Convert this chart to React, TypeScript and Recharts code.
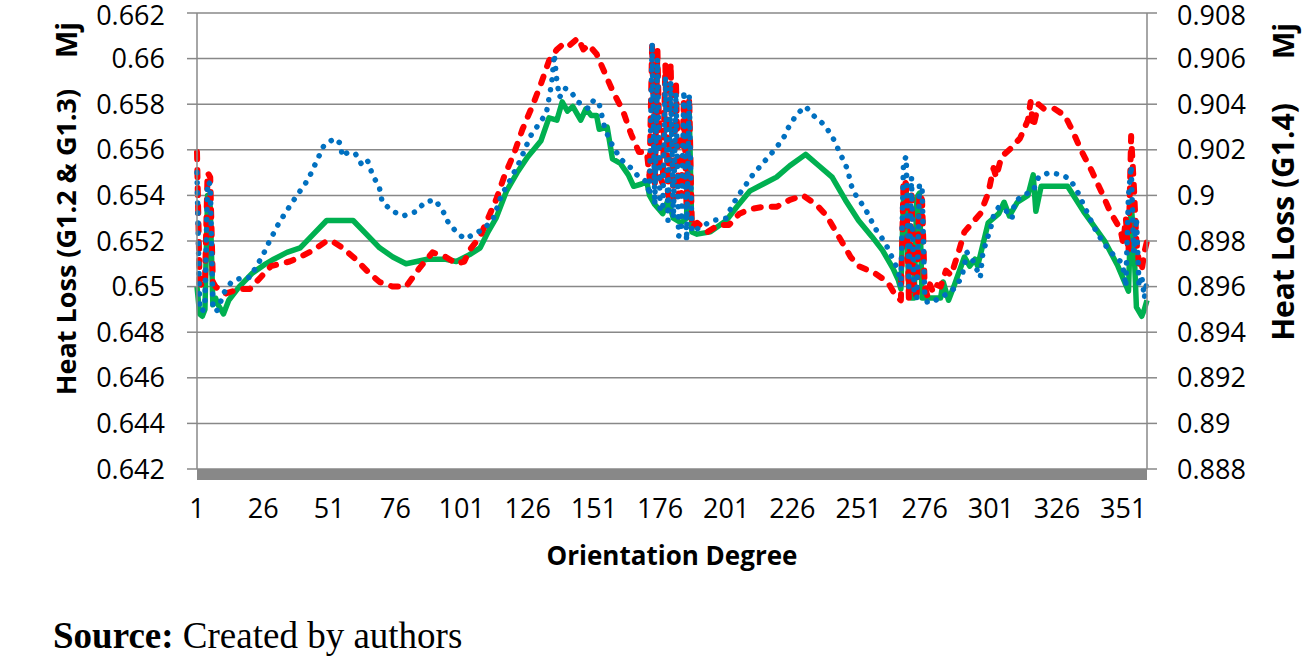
import React from 'react';
import { LineChart, Line, XAxis, YAxis, CartesianGrid } from 'recharts';

// orientation degree ticks and heat loss ticks (Mj)
const xTicks = [1, 26, 51, 76, 101, 126, 151, 176, 201, 226, 251, 276, 301, 326, 351];
const leftTicks = [0.642, 0.644, 0.646, 0.648, 0.65, 0.652, 0.654, 0.656, 0.658, 0.66, 0.662];
const rightTicks = [0.888, 0.89, 0.892, 0.894, 0.896, 0.898, 0.9, 0.902, 0.904, 0.906, 0.908];

// [degree, heat loss] – blue dotted, left axis
const bluePoints: [number, number][] = [
  [1, 0.655], [2, 0.6491], [3, 0.6489], [4, 0.6492], [5, 0.6546], [6, 0.6545], [7, 0.6492], [8, 0.6489],
  [9, 0.649], [11, 0.6497], [14, 0.6502], [18, 0.6504], [21, 0.6504], [23, 0.6508], [26, 0.6514], [28, 0.6519],
  [32, 0.6528], [37, 0.6537], [43, 0.6547], [47, 0.6557], [49, 0.6562], [53, 0.6565], [55, 0.6563], [56, 0.6557],
  [58, 0.6559], [61, 0.6558], [63, 0.6554], [65, 0.6556], [66, 0.6554], [67, 0.655], [70, 0.6543], [71, 0.6537],
  [75, 0.6533], [79, 0.6531], [84, 0.6533], [87, 0.6537], [91, 0.6538], [94, 0.6533], [96, 0.6528], [99, 0.6524],
  [102, 0.6521], [106, 0.6523], [110, 0.6526], [113, 0.653], [116, 0.654], [119, 0.6546], [123, 0.6555], [127, 0.6566],
  [130, 0.6571], [133, 0.6576], [135, 0.6589], [136, 0.6602], [137, 0.659], [138, 0.6583], [140, 0.6587], [142, 0.6586],
  [145, 0.6581], [149, 0.6578], [151, 0.6582], [153, 0.658], [155, 0.657], [157, 0.6564], [161, 0.6556], [165, 0.6552],
  [168, 0.6548], [171, 0.6546], [172, 0.654], [173, 0.6607], [174, 0.6536], [175, 0.66], [176, 0.6534], [177, 0.6533],
  [178, 0.6592], [179, 0.6529], [180, 0.659], [181, 0.653], [182, 0.6585], [183, 0.6522], [184, 0.6525], [185, 0.6586],
  [186, 0.652], [187, 0.6584], [188, 0.6524], [191, 0.6526], [196, 0.6529], [201, 0.653], [203, 0.6535], [205, 0.6539],
  [208, 0.6544], [211, 0.6549], [214, 0.6553], [217, 0.6557], [220, 0.6561], [223, 0.6566], [225, 0.6571], [228, 0.6576],
  [231, 0.6579], [234, 0.6575], [238, 0.6571], [241, 0.6566], [243, 0.6561], [245, 0.6556], [247, 0.6551], [248, 0.6545],
  [250, 0.654], [253, 0.6535], [255, 0.6531], [257, 0.6526], [260, 0.6521], [262, 0.6517], [264, 0.6512], [266, 0.6507],
  [267, 0.65], [268, 0.6555], [269, 0.6557], [270, 0.65], [271, 0.6548], [272, 0.6496], [273, 0.6495], [274, 0.6545],
  [275, 0.6543], [276, 0.6497], [277, 0.6493], [278, 0.6493], [282, 0.6495], [287, 0.6499], [290, 0.6504], [292, 0.6515],
  [294, 0.6512], [297, 0.6504], [298, 0.6515], [301, 0.6526], [302, 0.6531], [304, 0.6535], [307, 0.6533], [309, 0.653],
  [310, 0.6537], [313, 0.654], [317, 0.6542], [319, 0.6548], [323, 0.655], [328, 0.6549], [331, 0.6547], [334, 0.6541],
  [336, 0.6536], [338, 0.6531], [340, 0.6526], [342, 0.6522], [345, 0.6517], [348, 0.6513], [350, 0.6511], [351, 0.6508],
  [352, 0.65], [353, 0.654], [354, 0.6553], [355, 0.6515], [356, 0.653], [357, 0.65], [358, 0.6505], [359, 0.6495],
  [360, 0.6503],
];

// red dashed, left axis
const redPoints: [number, number][] = [
  [1, 0.6559], [2, 0.6502], [3, 0.65], [4, 0.6502], [5, 0.655], [6, 0.6548], [7, 0.6502], [8, 0.65],
  [10, 0.6498], [12, 0.6497], [17, 0.6499], [21, 0.6499], [25, 0.6504], [29, 0.6509], [36, 0.6511], [40, 0.6513],
  [45, 0.6516], [50, 0.652], [52, 0.652], [56, 0.6517], [61, 0.6512], [66, 0.6506], [70, 0.6502], [75, 0.65],
  [80, 0.65], [85, 0.6508], [90, 0.6515], [95, 0.6513], [99, 0.651], [102, 0.6511], [104, 0.6516], [108, 0.6522],
  [111, 0.653], [114, 0.6538], [117, 0.6548], [121, 0.6559], [124, 0.6569], [128, 0.658], [131, 0.6589], [134, 0.6599],
  [137, 0.6604], [140, 0.6607], [142, 0.6606], [145, 0.6609], [147, 0.6604], [149, 0.6606], [152, 0.6602], [155, 0.6594],
  [158, 0.6586], [162, 0.6577], [165, 0.6567], [168, 0.6559], [171, 0.6559], [172, 0.6548], [173, 0.6607], [174, 0.6545],
  [175, 0.6604], [176, 0.6548], [177, 0.6545], [178, 0.6597], [179, 0.654], [180, 0.6598], [181, 0.6538], [182, 0.659],
  [183, 0.654], [184, 0.654], [185, 0.6582], [186, 0.6535], [187, 0.6583], [188, 0.6526], [190, 0.6528], [194, 0.6524],
  [198, 0.6527], [202, 0.6527], [206, 0.6532], [210, 0.6534], [215, 0.6535], [220, 0.6535], [225, 0.6538], [230, 0.654],
  [235, 0.6536], [239, 0.6531], [243, 0.6523], [248, 0.6513], [251, 0.6509], [257, 0.6506], [262, 0.6502], [265, 0.6496],
  [267, 0.6494], [268, 0.6547], [269, 0.6545], [270, 0.6495], [271, 0.654], [272, 0.6495], [273, 0.6497], [274, 0.6541],
  [275, 0.6538], [276, 0.65], [277, 0.6496], [278, 0.6501], [279, 0.6498], [280, 0.6501], [282, 0.65], [284, 0.6507],
  [286, 0.6505], [289, 0.6516], [291, 0.6524], [294, 0.6528], [297, 0.6532], [300, 0.6541], [302, 0.6552], [303, 0.6548],
  [305, 0.6557], [308, 0.656], [312, 0.6565], [315, 0.6573], [316, 0.6581], [317, 0.657], [319, 0.658], [321, 0.6578],
  [325, 0.6578], [329, 0.6575], [332, 0.6568], [335, 0.656], [339, 0.6551], [343, 0.6541], [346, 0.6533], [350, 0.6525],
  [351, 0.6519], [352, 0.653], [353, 0.6515], [354, 0.6566], [355, 0.6545], [356, 0.652], [357, 0.651], [358, 0.6507],
  [359, 0.6515], [360, 0.652],
];

// green solid, right axis (G1.4)
const greenPoints: [number, number][] = [
  [1, 0.896], [2, 0.8948], [3, 0.8947], [4, 0.895], [5, 0.9], [6, 0.8995], [7, 0.8952], [8, 0.8955],
  [9, 0.8952], [11, 0.8948], [13, 0.8954], [17, 0.896], [22, 0.8966], [27, 0.897], [30, 0.8972], [35, 0.8975],
  [40, 0.8977], [45, 0.8983], [50, 0.8989], [55, 0.8989], [60, 0.8989], [65, 0.8983], [70, 0.8977], [75, 0.8973],
  [80, 0.897], [88, 0.8972], [95, 0.8972], [99, 0.8971], [104, 0.8974], [108, 0.8977], [111, 0.8984], [114, 0.899],
  [118, 0.9002], [122, 0.901], [126, 0.9017], [131, 0.9024], [134, 0.9034], [137, 0.9033], [139, 0.9041], [141, 0.9037],
  [143, 0.9039], [146, 0.9033], [148, 0.9038], [150, 0.9035], [152, 0.9035], [153, 0.9029], [156, 0.903], [158, 0.9016],
  [161, 0.9014], [164, 0.9009], [166, 0.9004], [169, 0.9005], [171, 0.9006], [172, 0.9], [174, 0.8996], [177, 0.8992],
  [179, 0.8998], [181, 0.899], [184, 0.8988], [186, 0.899], [187, 0.9037], [188, 0.8984], [190, 0.8983], [195, 0.8984],
  [201, 0.8989], [205, 0.8995], [210, 0.9002], [215, 0.9005], [220, 0.9008], [225, 0.9013], [231, 0.9018], [236, 0.9013],
  [241, 0.9008], [246, 0.8998], [251, 0.8989], [256, 0.8982], [260, 0.8976], [264, 0.8968], [266, 0.8963], [267, 0.8959],
  [268, 0.9], [269, 0.9002], [270, 0.8957], [271, 0.8955], [272, 0.8955], [273, 0.8999], [274, 0.9001], [275, 0.8955],
  [276, 0.8955], [278, 0.8955], [282, 0.8955], [283, 0.8962], [285, 0.8954], [287, 0.896], [291, 0.8973], [293, 0.8969],
  [295, 0.8972], [296, 0.8969], [300, 0.8988], [304, 0.8992], [306, 0.8997], [308, 0.8991], [311, 0.8997], [315, 0.9],
  [317, 0.9009], [318, 0.8993], [320, 0.9004], [324, 0.9004], [330, 0.9004], [336, 0.8993], [344, 0.898], [349, 0.8969],
  [353, 0.8958], [354, 0.8997], [355, 0.898], [356, 0.8951], [358, 0.8947], [359, 0.895], [360, 0.8954],
];

const toRows = (pts: [number, number][]) => pts.map(([deg, v]) => ({ deg, v }));
const fmt = (v: number) => String(parseFloat(v.toFixed(3)));

const tickStyle = { fill: '#000', fontSize: 27, fontFamily: '"Open Sans", sans-serif' };
const titleStyle: React.CSSProperties = {
  position: 'absolute',
  transform: 'translate(-50%, -50%) rotate(-90deg)',
  whiteSpace: 'nowrap',
  fontFamily: '"Open Sans", sans-serif',
  fontWeight: 700,
  lineHeight: '32px',
  color: '#000',
};

export default function App() {
  return (
    <div style={{ position: 'absolute', left: 0, top: 0, width: 1313, height: 659, background: '#fff' }}>
      <LineChart width={1313} height={600} margin={{ top: 13, right: 0, bottom: 0, left: 0 }}>
        <CartesianGrid vertical={false} stroke="#888" strokeWidth={1.5} yAxisId="left" />
        <XAxis
          dataKey="deg"
          type="number"
          domain={[1, 360]}
          ticks={xTicks}
          height={131}
          axisLine={false}
          tickLine={false}
          tickSize={0}
          tickMargin={30}
          tick={tickStyle}
          allowDuplicatedCategory={false}
        />
        <YAxis
          yAxisId="left"
          width={197}
          domain={[0.642, 0.662]}
          ticks={leftTicks}
          tickFormatter={fmt}
          allowDataOverflow
          axisLine={{ stroke: '#888', strokeWidth: 1.5 }}
          tickLine={{ stroke: '#888', strokeWidth: 1.5 }}
          tickSize={10}
          tickMargin={22}
          tick={tickStyle}
        />
        <YAxis
          yAxisId="right"
          orientation="right"
          width={166}
          domain={[0.888, 0.908]}
          ticks={rightTicks}
          tickFormatter={fmt}
          allowDataOverflow
          axisLine={{ stroke: '#888', strokeWidth: 1.5 }}
          tickLine={{ stroke: '#888', strokeWidth: 1.5 }}
          tickSize={10}
          tickMargin={20}
          tick={{ ...tickStyle, textAnchor: 'start' }}
        />
        <Line
          yAxisId="right"
          data={toRows(greenPoints)}
          dataKey="v"
          type="linear"
          stroke="#00B050"
          strokeWidth={5.5}
          strokeLinejoin="round"
          dot={false}
          isAnimationActive={false}
        />
        <Line
          yAxisId="left"
          data={toRows(redPoints)}
          dataKey="v"
          type="linear"
          stroke="#FF0000"
          strokeWidth={6}
          strokeDasharray="7 11"
          strokeLinecap="round"
          strokeLinejoin="round"
          dot={false}
          isAnimationActive={false}
        />
        <Line
          yAxisId="left"
          data={toRows(bluePoints)}
          dataKey="v"
          type="linear"
          stroke="#0070C0"
          strokeWidth={5.5}
          strokeDasharray="0.1 10"
          strokeLinecap="round"
          dot={false}
          isAnimationActive={false}
        />
      </LineChart>
      <div style={{ position: 'absolute', left: 197, top: 469, width: 950, height: 11, background: '#888' }} />
      <div style={{ ...titleStyle, fontSize: 27, left: 66, top: 242 }}>Heat Loss (G1.2 &amp; G1.3)</div>
      <div style={{ ...titleStyle, fontSize: 29, left: 66, top: 40 }}>Mj</div>
      <div style={{ ...titleStyle, fontSize: 30, left: 1283, top: 222 }}>Heat Loss (G1.4)</div>
      <div style={{ ...titleStyle, fontSize: 29, left: 1283, top: 41 }}>Mj</div>
      <div
        style={{
          position: 'absolute',
          left: 0,
          width: 1344,
          top: 540,
          textAlign: 'center',
          fontFamily: '"Open Sans", sans-serif',
          fontWeight: 700,
          fontSize: 26,
          lineHeight: '30px',
          color: '#000',
        }}
      >
        Orientation Degree
      </div>
      <div
        style={{
          position: 'absolute',
          left: 53,
          top: 616,
          fontFamily: '"Liberation Serif", "Times New Roman", serif',
          fontSize: 37,
          lineHeight: '40px',
          color: '#000',
          whiteSpace: 'nowrap',
        }}
      >
        <b>Source:</b> Created by authors
      </div>
    </div>
  );
}
